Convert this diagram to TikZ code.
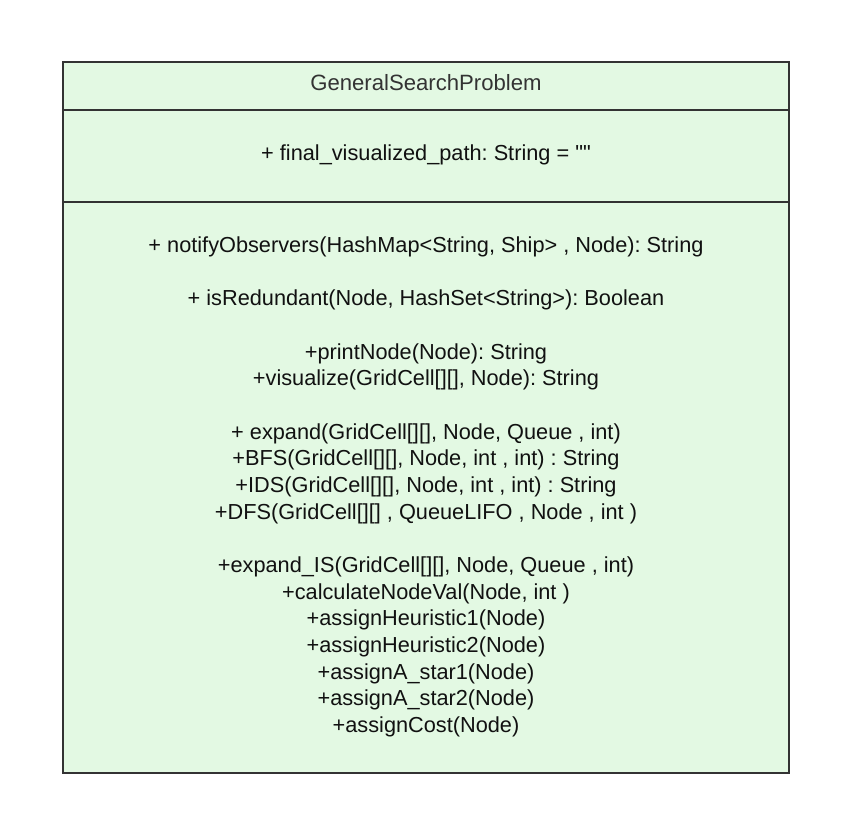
\documentclass[tikz,border=0pt]{standalone}
\usepackage{fontspec}
\setmainfont{Liberation Sans}[Ligatures=TeXOff]
\definecolor{boxfill}{HTML}{E3F9E3}
\definecolor{boxline}{HTML}{333333}
\definecolor{titletext}{HTML}{333333}
\definecolor{bodytext}{HTML}{111111}
\begin{document}
\frenchspacing
\begin{tikzpicture}[x=0.75pt,y=-0.75pt,
  umltext/.style={font=\fontsize{16.3}{20}\selectfont\frenchspacing, text=bodytext, align=center, inner sep=0pt},
  umlline/.style={draw=boxline, line width=1.5pt}]
\useasboundingbox (0,0) rectangle (853,838);
\node[umlline, fill=boxfill, minimum width=726*0.75pt, minimum height=711*0.75pt, inner sep=0pt] (box) at (426,417.5) {};
\coordinate (s1) at (63,110);
\coordinate (s2) at (63,202);
\draw[umlline] (s1) -- (s1 -| box.east);
\draw[umlline] (s2) -- (s2 -| box.east);
\node[umltext, text=titletext, font=\fontsize{16.6}{20}\selectfont] (title) at (426,83) {GeneralSearchProblem};
\node[umltext] (attr) at (426,155) {+ final\_visualized\_path: String = ""};
\node[umltext] (ops) at (426,487) {%
+ notifyObservers(HashMap<String, Ship> , Node): String\\
\\
+ isRedundant(Node, HashSet<String>): Boolean\\
\\
+printNode(Node): String\\
+visualize(GridCell[][], Node): String\\
\\
+ expand(GridCell[][], Node, Queue , int)\\
+BFS(GridCell[][], Node, int , int) : String\\
+IDS(GridCell[][], Node, int , int) : String\\
+DFS(GridCell[][] , QueueLIFO , Node , int )\\
\\
+expand\_IS(GridCell[][], Node, Queue , int)\\
+calculateNodeVal(Node, int )\\
+assignHeuristic1(Node)\\
+assignHeuristic2(Node)\\
+assignA\_star1(Node)\\
+assignA\_star2(Node)\\
+assignCost(Node)};
\end{tikzpicture}
\end{document}
